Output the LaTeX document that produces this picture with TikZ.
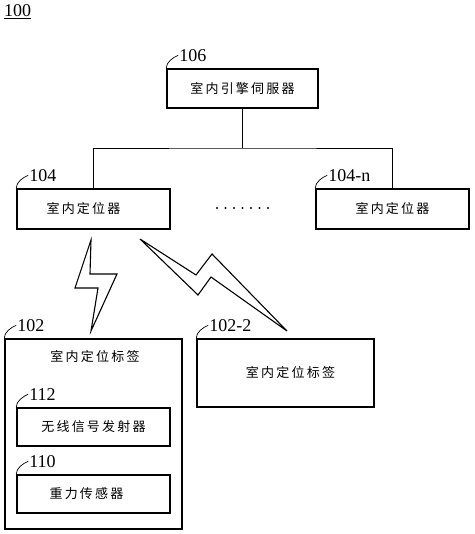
\documentclass[tikz,border=0pt]{standalone}
\usepackage{fontspec}
\setmainfont{Liberation Serif}
\newfontfamily\cjk[LetterSpace=17]{Noto Sans CJK SC}
\begin{document}
\begin{tikzpicture}[x=1pt,y=-1pt,line cap=butt,line join=miter,
    box/.style={draw,line width=1.6pt,inner sep=0pt,font=\cjk\fontsize{13}{15}\selectfont},
    title/.style={inner sep=0pt,font=\cjk\fontsize{13}{15}\selectfont},
    num/.style={inner sep=0pt,anchor=base west,font=\fontsize{18}{20}\selectfont},
    hook/.style={line width=.7pt},
    bolt/.style={line width=1.1pt}]
    \useasboundingbox (0,0) rectangle (474,534);
    \node[num] (fig) at (4,17) {\underline{100}};
    % server and locators
    \node[box,minimum width=151pt,minimum height=39pt] (srv) at (242.5,88.5) {室内引擎伺服器};
    \node[box,minimum width=153pt,minimum height=40pt] (loc) at (93.5,209) {室内定位器\hspace*{20pt}};
    \node[box,minimum width=153pt,minimum height=40pt] (locn) at (392.5,209) {室内定位器};
    \coordinate (fork) at (srv.south |- 0,148);
    \draw (srv.south) -- (fork);
    \draw (loc.north) |- (fork) -| (locn.north);
    \foreach \i in {0,...,6}
        \fill (217+8.5*\i,208) circle(1.2pt);
    % tags
    \node[box,minimum width=177pt,minimum height=190pt] (tag) at (93.5,434) {};
    \node[title] (tagt) at (95,357) {室内定位标签};
    \node[box,minimum width=153pt,minimum height=38pt] (tx) at (93.5,427) {无线信号发射器};
    \node[box,minimum width=153pt,minimum height=38pt] (grav) at (93.5,494) {重力传感器\hspace*{14pt}};
    \node[box,minimum width=177pt,minimum height=68pt] (tagb) at (285.5,373) {\hspace*{10pt}室内定位标签};
    % reference numbers
    \node[num] (l106) at ([shift={(13,-7)}]srv.north west) {106};
    \node[num] (l104) at ([shift={(13,-7)}]loc.north west) {104};
    \node[num] (l104n) at ([shift={(13,-7)}]locn.north west) {104-n};
    \node[num] (l102) at ([shift={(13,-7)}]tag.north west) {102};
    \node[num] (l1022) at ([shift={(13,-7)}]tagb.north west) {102-2};
    \node[num] (l112) at ([shift={(13,-7)}]tx.north west) {112};
    \node[num] (l110) at ([shift={(13,-7)}]grav.north west) {110};
    \foreach \b/\l in {srv/l106,loc/l104,locn/l104n,tag/l102,tagb/l1022,tx/l112,grav/l110}
        \draw[hook] (\b.north west) .. controls +(0,-6) and +(-5,2) .. ([xshift=-1pt]\l.west);
    % radio links
    \draw[bolt] (91,240) -- (90,274) -- (117,274) -- (91,331) -- (98,288) -- (75,288) -- cycle;
    \draw[bolt] (140,239) -- (196,275) -- (212,254) -- (287,331) -- (211,277) -- (198,295) -- cycle;
\end{tikzpicture}
\end{document}
